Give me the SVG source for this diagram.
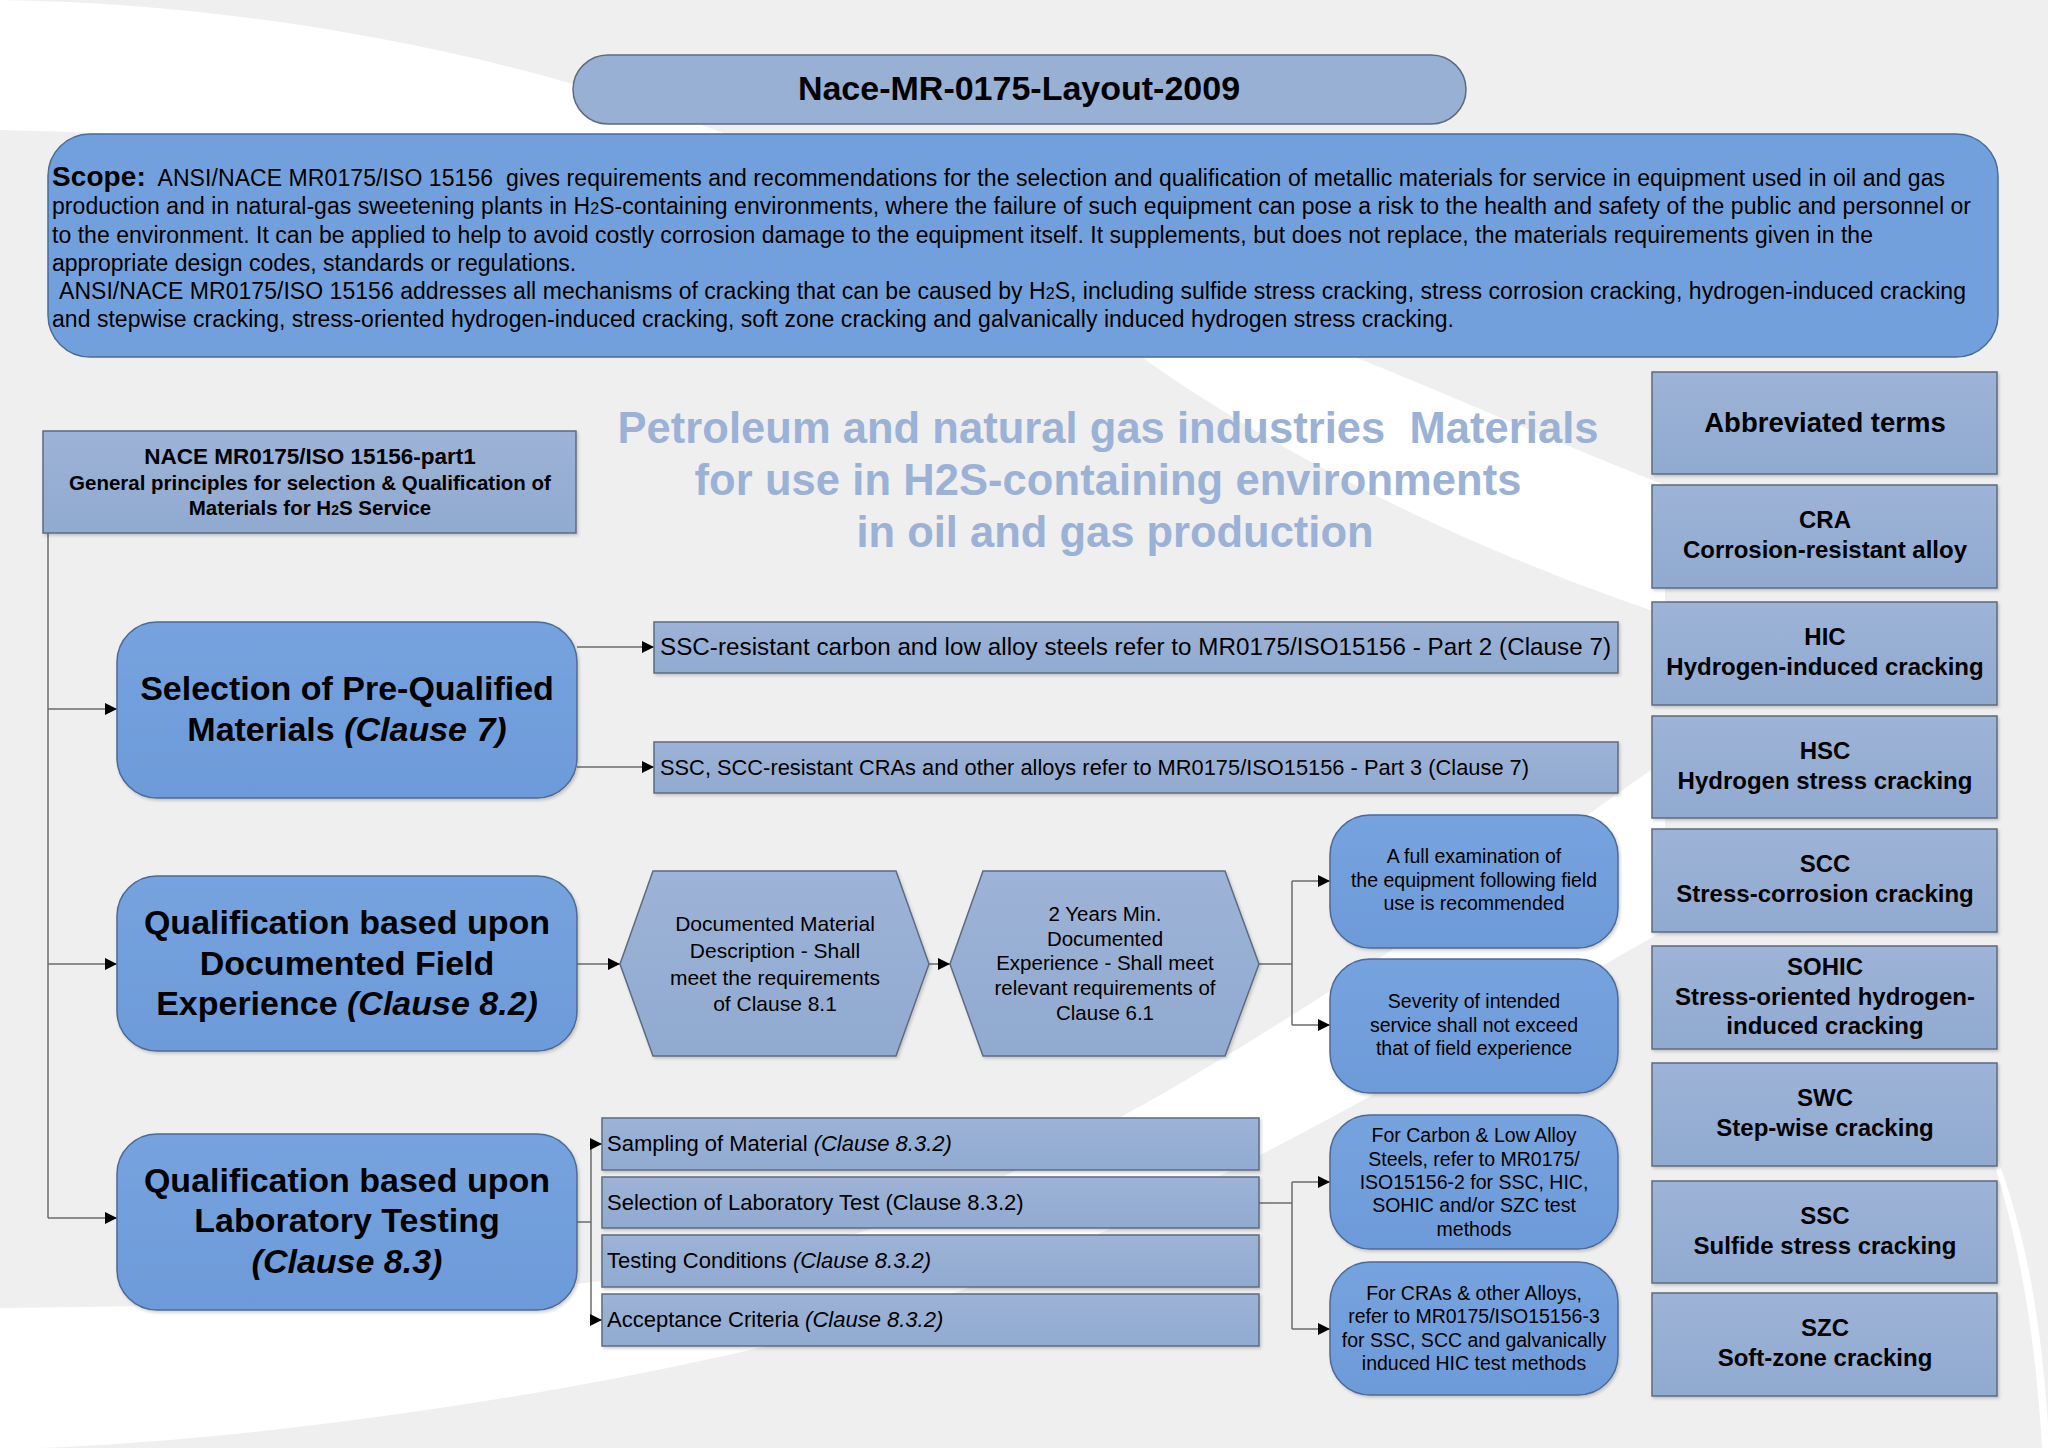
<svg xmlns="http://www.w3.org/2000/svg" width="2048" height="1448" viewBox="0 0 2048 1448">
<defs>
<linearGradient id="gSteel" x1="0" y1="0" x2="0" y2="1"><stop offset="0" stop-color="#9db3d7"/><stop offset="1" stop-color="#91aad0"/></linearGradient>
<linearGradient id="gBlue" x1="0" y1="0" x2="0" y2="1"><stop offset="0" stop-color="#76a3de"/><stop offset="1" stop-color="#6d9bd9"/></linearGradient>
<filter id="sh" x="-5%" y="-5%" width="110%" height="115%"><feDropShadow dx="1.5" dy="2" stdDeviation="1.5" flood-color="#000" flood-opacity="0.18"/></filter>
<marker id="arr" viewBox="0 0 10 10" refX="10" refY="5" markerWidth="12" markerHeight="12" markerUnits="userSpaceOnUse" orient="auto"><path d="M0,0 L10,5 L0,10 Z" fill="#000"/></marker>
<style>
text{font-family:"Liberation Sans",Arial,sans-serif;fill:#000}
.steel{fill:url(#gSteel);stroke:#5d6b80;stroke-width:1.5;filter:url(#sh)}
.blue{fill:url(#gBlue);stroke:#4c6a96;stroke-width:1.5;filter:url(#sh)}
.big{font-size:34px;font-weight:bold;text-anchor:middle}
.term{font-size:24px;font-weight:bold;text-anchor:middle}
.termh{font-size:27.5px;font-weight:bold;text-anchor:middle}
.sm{font-size:19.5px;text-anchor:middle}
.hx{font-size:21px;text-anchor:middle}
.hx2{font-size:20.5px;text-anchor:middle}
.lab{font-size:22px}
.scope{font-size:23px}
.conn path{fill:none;stroke:#6b6b6b;stroke-width:1.5}
.ttl{font-size:43.5px;font-weight:bold;fill:#9bb2d6;text-anchor:middle}
</style>
</defs>

<rect width="2048" height="1448" fill="#efefef"/>
<g id="background">
<path d="M0,0 C350,5 800,100 1143,358 C1300,470 1500,560 1665,615 L1665,485 C1550,440 1450,395 1357,358 C1000,230 500,140 0,130 Z" fill="#ffffff"/>
<path d="M0,1308 C300,1305 600,1295 800,1250 C1050,1185 1300,1020 1665,760 L1665,930 C1350,1110 1050,1285 800,1338 C550,1400 250,1440 40,1448 L0,1448 Z" fill="#ffffff"/>
<path d="M1975,1110 C2012,1200 2035,1320 2042,1448 L2048,1448 L2048,1425 C2040,1300 2018,1190 1975,1110 Z" fill="#ffffff"/>
</g>

<g id="title">
<rect x="573" y="55" width="893" height="69" rx="35" ry="35" fill="#98b0d4" stroke="#5d6b80" stroke-width="1.5"/>
<text x="1019" y="100" font-size="34" font-weight="bold" text-anchor="middle">Nace-MR-0175-Layout-2009</text>
</g>

<g id="scope">
<rect x="48" y="134" width="1950" height="223" rx="42" ry="42" fill="#72a0dc" stroke="#4c6a96" stroke-width="1.5"/>
<text class="scope" x="52" y="186" xml:space="preserve" textLength="1893" lengthAdjust="spacing"><tspan font-weight="bold" style="font-size:28px">Scope:</tspan>  ANSI/NACE MR0175/ISO 15156  gives requirements and recommendations for the selection and qualification of metallic materials for service in equipment used in oil and gas</text>
<text class="scope" x="52" y="214" textLength="1919" lengthAdjust="spacing">production and in natural-gas sweetening plants in H<tspan style="font-size:16px">2</tspan>S-containing environments, where the failure of such equipment can pose a risk to the health and safety of the public and personnel or</text>
<text class="scope" x="52" y="243" textLength="1821" lengthAdjust="spacing">to the environment. It can be applied to help to avoid costly corrosion damage to the equipment itself. It supplements, but does not replace, the materials requirements given in the</text>
<text class="scope" x="52" y="271">appropriate design codes, standards or regulations.</text>
<text class="scope" x="59" y="299" textLength="1907" lengthAdjust="spacing">ANSI/NACE MR0175/ISO 15156 addresses all mechanisms of cracking that can be caused by H<tspan style="font-size:16px">2</tspan>S, including sulfide stress cracking, stress corrosion cracking, hydrogen-induced cracking</text>
<text class="scope" x="52" y="327" textLength="1402" lengthAdjust="spacing">and stepwise cracking, stress-oriented hydrogen-induced cracking, soft zone cracking and galvanically induced hydrogen stress cracking.</text>
</g>

<g id="heading">
<text class="ttl" x="1108" y="443" xml:space="preserve" textLength="981" lengthAdjust="spacing">Petroleum and natural gas industries  Materials</text>
<text class="ttl" x="1108" y="495" textLength="827" lengthAdjust="spacing">for use in H2S-containing environments</text>
<text class="ttl" x="1115" y="547">in oil and gas production</text>
</g>

<g class="conn" id="connectors">
<path d="M48,533 V1218"/>
<path d="M48,709 H117" marker-end="url(#arr)"/>
<path d="M48,964 H117" marker-end="url(#arr)"/>
<path d="M48,1218 H117" marker-end="url(#arr)"/>
<path d="M577,647 H654" marker-end="url(#arr)"/>
<path d="M577,767 H654" marker-end="url(#arr)"/>
<path d="M577,964 H620" marker-end="url(#arr)"/>
<path d="M929,964 H950" marker-end="url(#arr)"/>
<path d="M1259,964 H1292"/>
<path d="M1292,881 V1025"/>
<path d="M1292,881 H1330" marker-end="url(#arr)"/>
<path d="M1292,1025 H1330" marker-end="url(#arr)"/>
<path d="M577,1222 H591"/>
<path d="M591,1144 V1320"/>
<path d="M591,1144 H602" marker-end="url(#arr)"/>
<path d="M591,1320 H602" marker-end="url(#arr)"/>
<path d="M1259,1203 H1292"/>
<path d="M1292,1182 V1329"/>
<path d="M1292,1182 H1330" marker-end="url(#arr)"/>
<path d="M1292,1329 H1330" marker-end="url(#arr)"/>
</g>

<g id="part1">
<rect class="steel" x="43" y="431" width="533" height="102"/>
<text x="310" y="464" font-size="22.5" font-weight="bold" text-anchor="middle">NACE MR0175/ISO 15156-part1</text>
<text x="310" y="490" font-size="20.5" font-weight="bold" text-anchor="middle">General principles for selection &amp; Qualification of</text>
<text x="310" y="515" font-size="20.5" font-weight="bold" text-anchor="middle">Materials for H<tspan font-size="14">2</tspan>S Service</text>
</g>

<g id="box-selection">
<rect class="blue" x="117" y="622" width="460" height="176" rx="40" ry="40"/>
<text class="big" x="347" y="700">Selection of Pre-Qualified</text>
<text class="big" x="347" y="741">Materials <tspan font-style="italic">(Clause 7)</tspan></text>
</g>

<g id="box-field">
<rect class="blue" x="117" y="876" width="460" height="175" rx="40" ry="40"/>
<text class="big" x="347" y="934">Qualification based upon</text>
<text class="big" x="347" y="975">Documented Field</text>
<text class="big" x="347" y="1015">Experience <tspan font-style="italic">(Clause 8.2)</tspan></text>
</g>

<g id="box-lab">
<rect class="blue" x="117" y="1134" width="460" height="176" rx="40" ry="40"/>
<text class="big" x="347" y="1192">Qualification based upon</text>
<text class="big" x="347" y="1232">Laboratory Testing</text>
<text class="big" x="347" y="1273" font-style="italic">(Clause 8.3)</text>
</g>

<g id="ref-part2">
<rect class="steel" x="654" y="622" width="964" height="51"/>
<text x="660" y="655" font-size="24.2" textLength="951" lengthAdjust="spacing">SSC-resistant carbon and low alloy steels refer to MR0175/ISO15156 - Part 2 (Clause 7)</text>
</g>
<g id="ref-part3">
<rect class="steel" x="654" y="742" width="964" height="51"/>
<text x="660" y="775" font-size="21.8" textLength="869" lengthAdjust="spacing">SSC, SCC-resistant CRAs and other alloys refer to MR0175/ISO15156 - Part 3 (Clause 7)</text>
</g>

<g id="hex-description">
<polygon class="steel" points="620,964 653,871 896,871 929,964 896,1056 653,1056"/>
<text class="hx" x="775" y="931">Documented Material</text>
<text class="hx" x="775" y="958">Description - Shall</text>
<text class="hx" x="775" y="985">meet the requirements</text>
<text class="hx" x="775" y="1011">of Clause 8.1</text>
</g>

<g id="hex-experience">
<polygon class="steel" points="950,964 983,871 1225,871 1259,964 1225,1056 983,1056"/>
<text class="hx2" x="1105" y="921">2 Years Min.</text>
<text class="hx2" x="1105" y="946">Documented</text>
<text class="hx2" x="1105" y="970">Experience - Shall meet</text>
<text class="hx2" x="1105" y="995">relevant requirements of</text>
<text class="hx2" x="1105" y="1020">Clause 6.1</text>
</g>

<g id="note-examination">
<rect class="blue" x="1330" y="815" width="288" height="133" rx="40" ry="40"/>
<text class="sm" x="1474" y="863">A full examination of</text>
<text class="sm" x="1474" y="887">the equipment following field</text>
<text class="sm" x="1474" y="910">use is recommended</text>
</g>
<g id="note-severity">
<rect class="blue" x="1330" y="959" width="288" height="134" rx="40" ry="40"/>
<text class="sm" x="1474" y="1008">Severity of intended</text>
<text class="sm" x="1474" y="1032">service shall not exceed</text>
<text class="sm" x="1474" y="1055">that of field experience</text>
</g>

<g id="lab-sampling">
<rect class="steel" x="602" y="1118" width="657" height="52"/>
<text class="lab" x="607" y="1151">Sampling of Material <tspan font-style="italic">(Clause 8.3.2)</tspan></text>
</g>
<g id="lab-selection">
<rect class="steel" x="602" y="1177" width="657" height="51"/>
<text class="lab" x="607" y="1210">Selection of Laboratory Test (Clause 8.3.2)</text>
</g>
<g id="lab-conditions">
<rect class="steel" x="602" y="1235" width="657" height="52"/>
<text class="lab" x="607" y="1268">Testing Conditions <tspan font-style="italic">(Clause 8.3.2)</tspan></text>
</g>
<g id="lab-acceptance">
<rect class="steel" x="602" y="1294" width="657" height="52"/>
<text class="lab" x="607" y="1327">Acceptance Criteria <tspan font-style="italic">(Clause 8.3.2)</tspan></text>
</g>

<g id="note-carbon">
<rect class="blue" x="1330" y="1115" width="288" height="134" rx="40" ry="40"/>
<text class="sm" x="1474" y="1142">For Carbon &amp; Low Alloy</text>
<text class="sm" x="1474" y="1166">Steels, refer to MR0175/</text>
<text class="sm" x="1474" y="1189">ISO15156-2 for SSC, HIC,</text>
<text class="sm" x="1474" y="1212">SOHIC and/or SZC test</text>
<text class="sm" x="1474" y="1236">methods</text>
</g>
<g id="note-cra">
<rect class="blue" x="1330" y="1262" width="288" height="133" rx="40" ry="40"/>
<text class="sm" x="1474" y="1300">For CRAs &amp; other Alloys,</text>
<text class="sm" x="1474" y="1323">refer to MR0175/ISO15156-3</text>
<text class="sm" x="1474" y="1347">for SSC, SCC and galvanically</text>
<text class="sm" x="1474" y="1370">induced HIC test methods</text>
</g>

<g id="terms-header">
<rect class="steel" x="1652" y="372" width="345" height="102"/>
<text class="termh" x="1825" y="432">Abbreviated terms</text>
</g>
<g id="term-cra">
<rect class="steel" x="1652" y="485" width="345" height="103"/>
<text class="term" x="1825" y="528">CRA</text>
<text class="term" x="1825" y="558">Corrosion-resistant alloy</text>
</g>
<g id="term-hic">
<rect class="steel" x="1652" y="602" width="345" height="103"/>
<text class="term" x="1825" y="645">HIC</text>
<text class="term" x="1825" y="675">Hydrogen-induced cracking</text>
</g>
<g id="term-hsc">
<rect class="steel" x="1652" y="716" width="345" height="102"/>
<text class="term" x="1825" y="759">HSC</text>
<text class="term" x="1825" y="789">Hydrogen stress cracking</text>
</g>
<g id="term-scc">
<rect class="steel" x="1652" y="829" width="345" height="103"/>
<text class="term" x="1825" y="872">SCC</text>
<text class="term" x="1825" y="902">Stress-corrosion cracking</text>
</g>
<g id="term-sohic">
<rect class="steel" x="1652" y="946" width="345" height="103"/>
<text class="term" x="1825" y="975">SOHIC</text>
<text class="term" x="1825" y="1005">Stress-oriented hydrogen-</text>
<text class="term" x="1825" y="1034">induced cracking</text>
</g>
<g id="term-swc">
<rect class="steel" x="1652" y="1063" width="345" height="103"/>
<text class="term" x="1825" y="1106">SWC</text>
<text class="term" x="1825" y="1136">Step-wise cracking</text>
</g>
<g id="term-ssc">
<rect class="steel" x="1652" y="1181" width="345" height="102"/>
<text class="term" x="1825" y="1224">SSC</text>
<text class="term" x="1825" y="1254">Sulfide stress cracking</text>
</g>
<g id="term-szc">
<rect class="steel" x="1652" y="1293" width="345" height="103"/>
<text class="term" x="1825" y="1336">SZC</text>
<text class="term" x="1825" y="1366">Soft-zone cracking</text>
</g>
</svg>
